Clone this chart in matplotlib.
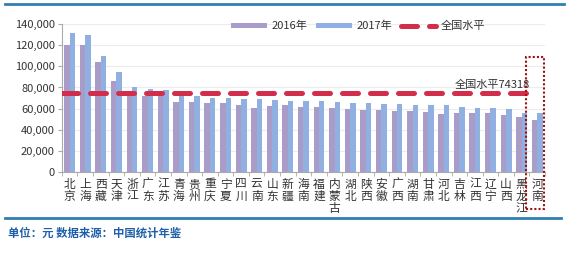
import matplotlib
matplotlib.use('Agg')
import matplotlib.pyplot as plt
from matplotlib.patches import Rectangle
from matplotlib.ticker import FuncFormatter
import numpy as np

plt.rcParams['font.family'] = ['Noto Sans CJK SC', 'DejaVu Sans']

provinces = ['北京', '上海', '西藏', '天津', '浙江', '广东', '江苏', '青海', '贵州', '重庆',
             '宁夏', '四川', '云南', '山东', '新疆', '海南', '福建', '内蒙古', '湖北', '陕西',
             '安徽', '广西', '湖南', '甘肃', '河北', '吉林', '江西', '辽宁', '山西', '黑龙江', '河南']
wage_2016 = [120000, 120000, 104000, 86000, 72000, 72000, 71500, 66500, 66000, 65500,
             65000, 63500, 60500, 62500, 63000, 62000, 62000, 60500, 60000, 59000,
             59000, 58000, 57500, 57000, 54500, 56000, 56000, 56000, 53500, 52000, 49000]
wage_2017 = [132000, 130000, 109500, 95000, 80000, 79000, 78000, 75000, 71500, 70500,
             70000, 69000, 69000, 68000, 67500, 67500, 67000, 66500, 65500, 65000,
             64500, 64000, 63500, 63000, 63000, 61500, 61000, 60500, 60000, 56000, 55500]
national = 74318

c16 = '#a99cc9'
c17 = '#8fb0e0'
red = '#d22e4c'
blue_line = '#2f7fb0'
text_c = '#333333'

fig = plt.figure(figsize=(5.78, 2.56), dpi=100)
ax = fig.add_axes([0.107, 0.328, 0.836, 0.578])

x = np.arange(len(provinces))
w = 0.35
b16 = ax.bar(x - w / 2, wage_2016, w, color=c16, label='2016年', zorder=2)
b17 = ax.bar(x + w / 2, wage_2017, w, color=c17, label='2017年', zorder=2)
ln, = ax.plot([-0.5, len(provinces) - 1.5], [national, national], color=red, lw=3.6,
              dashes=(3.2, 2.4), dash_capstyle='round', label='全国水平', zorder=3)
ax.text(len(provinces) - 1.45, national + 3500, '全国水平' + str(national), ha='right', va='bottom',
        fontsize=8, color=text_c)

ax.set_xlim(-0.5, len(provinces) - 0.5)
ax.set_ylim(0, 140000)
ax.set_yticks(np.arange(0, 140001, 20000))
ax.yaxis.set_major_formatter(FuncFormatter(lambda v, p: '{:,.0f}'.format(v)))
ax.set_xticks(x)
ax.set_xticklabels(['\n'.join(p) for p in provinces], fontsize=8.5, linespacing=0.92, color=text_c)
ax.set_xticks(np.arange(-0.5, len(provinces), 1), minor=True)
ax.tick_params(axis='x', which='major', length=0, pad=4)
ax.tick_params(axis='x', which='minor', length=3, color='#aaaaaa')
ax.tick_params(axis='y', labelsize=8, length=3, color='#aaaaaa', labelcolor=text_c, pad=2)
ax.grid(axis='y', color='#ececec', lw=0.8, zorder=0)
for s in ['top', 'right']:
    ax.spines[s].set_visible(False)
ax.spines['left'].set_color('#aaaaaa')
ax.spines['bottom'].set_color('#aaaaaa')

leg = ax.legend([b16, b17, ln], ['2016年', '2017年', '全国水平'], loc='upper left',
                bbox_to_anchor=(0.33, 1.09), ncol=3, frameon=False,
                fontsize=8, handlelength=3.2, handleheight=0.35, columnspacing=0.8, handletextpad=0.4)
for t in leg.get_texts():
    t.set_color(text_c)

# dotted box around the last province
box = Rectangle((0.961, -0.25), 0.036, 1.027, transform=ax.transAxes, fill=False,
                ls=(0, (1, 1)), lw=1.5, edgecolor='#a01010', clip_on=False, zorder=5)
ax.add_patch(box)

fig.add_artist(plt.Line2D([0.009, 0.975], [0.984, 0.984], color=blue_line, lw=2))
fig.add_artist(plt.Line2D([0.009, 0.97], [0.148, 0.148], color=blue_line, lw=2))
fig.text(0.014, 0.09, '单位：元 数据来源：中国统计年鉴', fontsize=8.2, fontweight='bold',
         color='#1d5fa8', va='center')

fig.savefig('out.png', dpi=100)
